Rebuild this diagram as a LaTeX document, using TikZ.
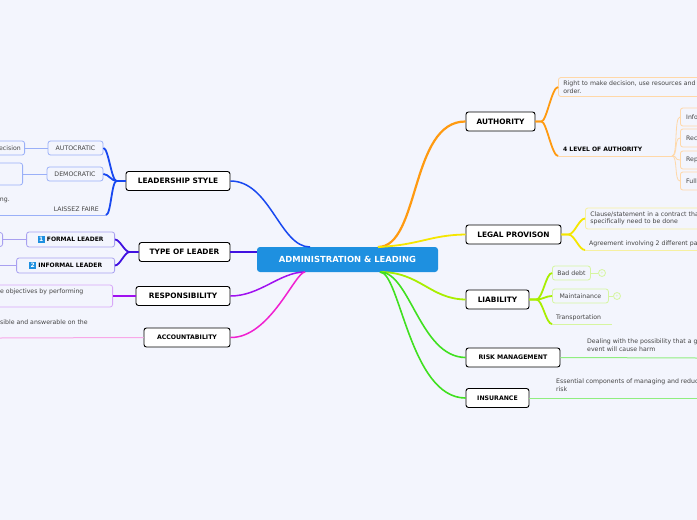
\documentclass[tikz,border=0pt]{standalone}
\usepackage{fontspec}
\setmainfont{DejaVu Sans}
\usetikzlibrary{calc}
\definecolor{bg}{HTML}{F3F5FD}
\definecolor{cblue}{HTML}{1E90E0}
\definecolor{corange}{HTML}{FF9A10}
\definecolor{lorange}{HTML}{FFD8A8}
\definecolor{cyellow}{HTML}{F5E600}
\definecolor{lyellow}{HTML}{F6F0A0}
\definecolor{clime}{HTML}{A8EE00}
\definecolor{llime}{HTML}{D6F5A0}
\definecolor{cgreen}{HTML}{40E020}
\definecolor{lgreen}{HTML}{90EE80}
\definecolor{lblue}{HTML}{1848F0}
\definecolor{llblue}{HTML}{9AB0F8}
\definecolor{cviolet}{HTML}{4010E0}
\definecolor{lviolet}{HTML}{A8A0F0}
\definecolor{cpurple}{HTML}{A010F0}
\definecolor{lpurple}{HTML}{D8A8F8}
\definecolor{cmag}{HTML}{F020D0}
\definecolor{lmag}{HTML}{F8A8E8}
\definecolor{tgray}{HTML}{444444}
\newcommand{\numicon}[1]{{\setlength{\fboxsep}{1.5pt}\colorbox{cblue}{\textcolor{white}{\bfseries #1}}}}
\tikzset{
 mainn/.style={draw=black, rounded corners=2.5pt, fill=white, font=\bfseries\fontsize{7.4}{8}\selectfont, minimum height=19pt, inner xsep=2pt, line width=0.9pt, anchor=center},
 sub/.style={rounded corners=2.5pt, fill=bg, font=\fontsize{6.2}{7.4}\selectfont, text=tgray, minimum height=14pt, inner xsep=3pt, line width=0.8pt},
 txt/.style={font=\fontsize{6.2}{7.4}\selectfont, text=tgray, align=left, inner sep=0pt},
 br/.style={line width=1.8pt},
}
\begin{document}
\begin{tikzpicture}[x=1pt,y=-1pt]
\fill[bg] (0,0) rectangle (697,520);
\clip (0,0) rectangle (697,520);
\useasboundingbox (0,0) rectangle (697,520);

% center
\node[fill=cblue, rounded corners=3pt, text=white, font=\bfseries\fontsize{8.4}{9}\selectfont, minimum width=181pt, minimum height=25pt] (c) at (347.5,259.5) {ADMINISTRATION \& LEADING};
\coordinate (cr1) at (378,247); \coordinate (cr2) at (380,272);
\coordinate (cl1) at (310,247); \coordinate (cl2) at (305,272);

% right main
\node[mainn, minimum width=69pt] (auth) at (500.5,121.5) {AUTHORITY};
\node[mainn, minimum width=95pt] (legal) at (513.5,234.5) {LEGAL PROVISON};
\node[mainn, minimum width=63pt] (liab) at (497.5,299.5) {LIABILITY};
\node[mainn, minimum width=94pt, font=\bfseries\fontsize{6.2}{7}\selectfont] (risk) at (513,357.5) {RISK MANAGEMENT};
\node[mainn, minimum width=63pt, font=\bfseries\fontsize{6.2}{7}\selectfont] (ins) at (497.5,398) {INSURANCE};

\draw[corange, line width=2.2pt] (cr1) .. controls (420,247) and (410,121) .. (auth.west);
\draw[cyellow, line width=1.8pt] (cr1) .. controls (420,245) and (430,235) .. (legal.west);
\draw[clime, line width=1.8pt] (cr2) .. controls (420,272) and (430,299) .. (liab.west);
\draw[cgreen, line width=1.6pt] (cr2) .. controls (410,272) and (420,357) .. (risk.west);
\draw[cgreen, line width=1.6pt] (cr2) .. controls (400,272) and (410,398) .. (ins.west);

% left main
\node[mainn, minimum width=104pt] (lead) at (178,181) {LEADERSHIP STYLE};
\node[mainn, minimum width=91pt] (type) at (184.5,252) {TYPE OF LEADER};
\node[mainn, minimum width=94pt] (resp) at (183,296) {RESPONSIBILITY};
\node[mainn, minimum width=86pt, font=\bfseries\fontsize{6.2}{7}\selectfont] (acc) at (187,337.5) {ACCOUNTABILITY};

\draw[lblue, line width=1.5pt] (cl1) .. controls (280,247) and (270,181) .. (lead.east);
\draw[cviolet, line width=1.5pt] (c.west|-type) -- (type.east);
\draw[cpurple, line width=1.5pt] (cl2) .. controls (280,272) and (260,296) .. (resp.east);
\draw[cmag, line width=1.5pt] (cl2) .. controls (295,272) and (270,338) .. (acc.east);

% authority subs
\node[sub, draw=lorange, anchor=west, minimum width=160pt, minimum height=19pt, text width=150pt, align=left] (a1) at (558,87) {Right to make decision, use resources and give order.};
\node[txt, anchor=west, font=\bfseries\fontsize{6}{7}\selectfont, text=black] (a2) at (563,149) {4 LEVEL OF AUTHORITY};
\coordinate (a2e) at (672,156);
\draw[lorange, line width=1pt] (558,156) -- (a2e);
\draw[corange, br] (auth.east) -- ++(6,0) .. controls +(5,0) and +(-6,0) .. (a1.west);
\draw[corange, br] (auth.east) -- ++(6,0) .. controls +(5,0) and +(-6,0) .. (558,156);
\foreach \n/\y/\t in {1/117/Information, 2/138/Recommend, 3/160/Report, 4/181/Full} {
  \node[sub, draw=lorange, anchor=west, minimum width=60pt, minimum height=18pt] (l\n) at (680,\y) {};
  \node[txt, anchor=west] (lt\n) at (686,\y) {\t};
  \draw[lorange, line width=0.8pt] (a2e) .. controls +(6,0) and +(-6,0) .. (l\n.west);
}

% legal subs
\node[sub, draw=lyellow, anchor=west, minimum width=140pt, minimum height=21pt, text width=130pt, align=left] (g1) at (585,218.5) {Clause/statement in a contract that specifically need to be done};
\node[txt, anchor=west] (g2) at (589,244) {Agreement involving 2 different parties};
\coordinate (g2s) at (585,250);
\draw[lyellow, line width=1pt] (g2s) -- (697,250);
\draw[cyellow, br] (legal.east) -- ++(7,0) .. controls +(6,0) and +(-6,0) .. (g1.west);
\draw[cyellow, br] (legal.east) -- ++(7,0) .. controls +(6,0) and +(-6,0) .. (g2s);

% liability subs
\node[sub, draw=llime, anchor=west, minimum width=38pt] (b1) at (552,273) {Bad debt};
\node[sub, draw=llime, anchor=west, minimum width=56pt] (b2) at (552,296) {Maintainance};
\node[txt, anchor=west] (b3) at (556,318) {Transportation};
\coordinate (b3s) at (552,324);
\draw[llime, line width=1pt] (b3s) -- (612,324);
\node[circle, draw=llime, fill=bg, line width=0.8pt, inner sep=0pt, minimum size=7pt, font=\fontsize{4}{4}\selectfont, text=llime] (o1) at (602,273) {+};
\node[circle, draw=llime, fill=bg, line width=0.8pt, inner sep=0pt, minimum size=7pt, font=\fontsize{4}{4}\selectfont, text=llime] (o2) at (617,296) {+};
\draw[llime, line width=1pt] (b1.east) -- (o1.west);
\draw[llime, line width=1pt] (b2.east) -- (o2.west);
\draw[clime, br] (liab.east) -- ++(7,0) .. controls +(6,0) and +(-6,0) .. (b1.west);
\draw[clime, br] (liab.east) -- ++(7,0) .. controls +(6,0) and +(-6,0) .. (b2.west);
\draw[clime, br] (liab.east) -- ++(7,0) .. controls +(6,0) and +(-6,0) .. (b3s);

% risk & insurance
\node[txt, anchor=north west] (r1) at (587,339) {Dealing with the possibility that a given\\event will cause harm};
\coordinate (rend) at (697,358);
\draw[lgreen, line width=1pt] (risk.east) -- (rend);
\node[txt, anchor=north west] (i1) at (556,379) {Essential components of managing and reducing\\risk};
\coordinate (iend) at (697,398);
\draw[lgreen, line width=1pt] (ins.east) -- (iend);

% leadership subs
\node[sub, draw=llblue, minimum width=55pt] (au) at (75.5,148) {AUTOCRATIC};
\node[sub, draw=llblue, anchor=east, minimum width=60pt] (au2) at (25,148) {};
\node[txt, anchor=east] (au2t) at (21,148) {Make decision};
\draw[llblue, line width=1pt] (au2.east) -- (au.west);
\node[sub, draw=llblue, minimum width=56pt] (de) at (75,174) {DEMOCRATIC};
\node[sub, draw=llblue, anchor=east, minimum width=60pt, minimum height=22pt] (de2) at (23,174) {};
\draw[llblue, line width=1pt] (de2.east) -- (de.west);
\node[txt, anchor=east] (lf) at (99,209) {LAISSEZ FAIRE};
\node[txt, anchor=east] (lf2) at (10,200) {ng.};
\coordinate (lfe) at (106,215);
\draw[llblue, line width=1pt] (0,215) -- (lfe);
\draw[lblue, br] (lead.west) -- ++(-9,0) .. controls +(-5,0) and +(5,0) .. (au.east);
\draw[lblue, br] (lead.west) -- ++(-9,0) .. controls +(-5,0) and +(5,0) .. (de.east);
\draw[lblue, br] (lead.west) -- ++(-9,0) .. controls +(-5,0) and +(5,0) .. (lfe);

% type of leader subs
\node[sub, draw=lviolet, anchor=east, minimum width=88pt, minimum height=15pt, font=\bfseries\fontsize{6}{7}\selectfont, text=black] (fl) at (115,239.5) {\numicon{1}\ FORMAL LEADER};
\node[sub, draw=lviolet, anchor=east, minimum width=98pt, minimum height=15pt, font=\bfseries\fontsize{6}{7}\selectfont, text=black] (il) at (115,265.5) {\numicon{2}\ INFORMAL LEADER};
\node[sub, draw=lviolet, anchor=east, minimum width=40pt] (fl2) at (3,239.5) {};
\coordinate (il2) at (0,265.5);
\draw[lviolet, line width=1pt] (fl2.east) -- (fl.west);
\draw[lviolet, line width=1pt] (il2) -- (il.west);
\draw[cviolet, br] (type.west) -- ++(-9,0) .. controls +(-5,0) and +(5,0) .. (fl.east);
\draw[cviolet, br] (type.west) -- ++(-9,0) .. controls +(-5,0) and +(5,0) .. (il.east);

% responsibility
\node[sub, draw=lpurple, anchor=east, minimum width=160pt, minimum height=22pt] (rs) at (113,296) {};
\node[txt, anchor=west] (rst) at (0,292) {e objectives by performing};
\draw[cpurple, line width=1.8pt] (resp.west) -- (rs.east);

% accountability
\node[txt, anchor=west] (act) at (0,322) {sible and answerable on the};
\coordinate (acce) at (0,338);
\draw[lmag, line width=1pt] (acc.west) -- (acce);
\end{tikzpicture}
\end{document}
